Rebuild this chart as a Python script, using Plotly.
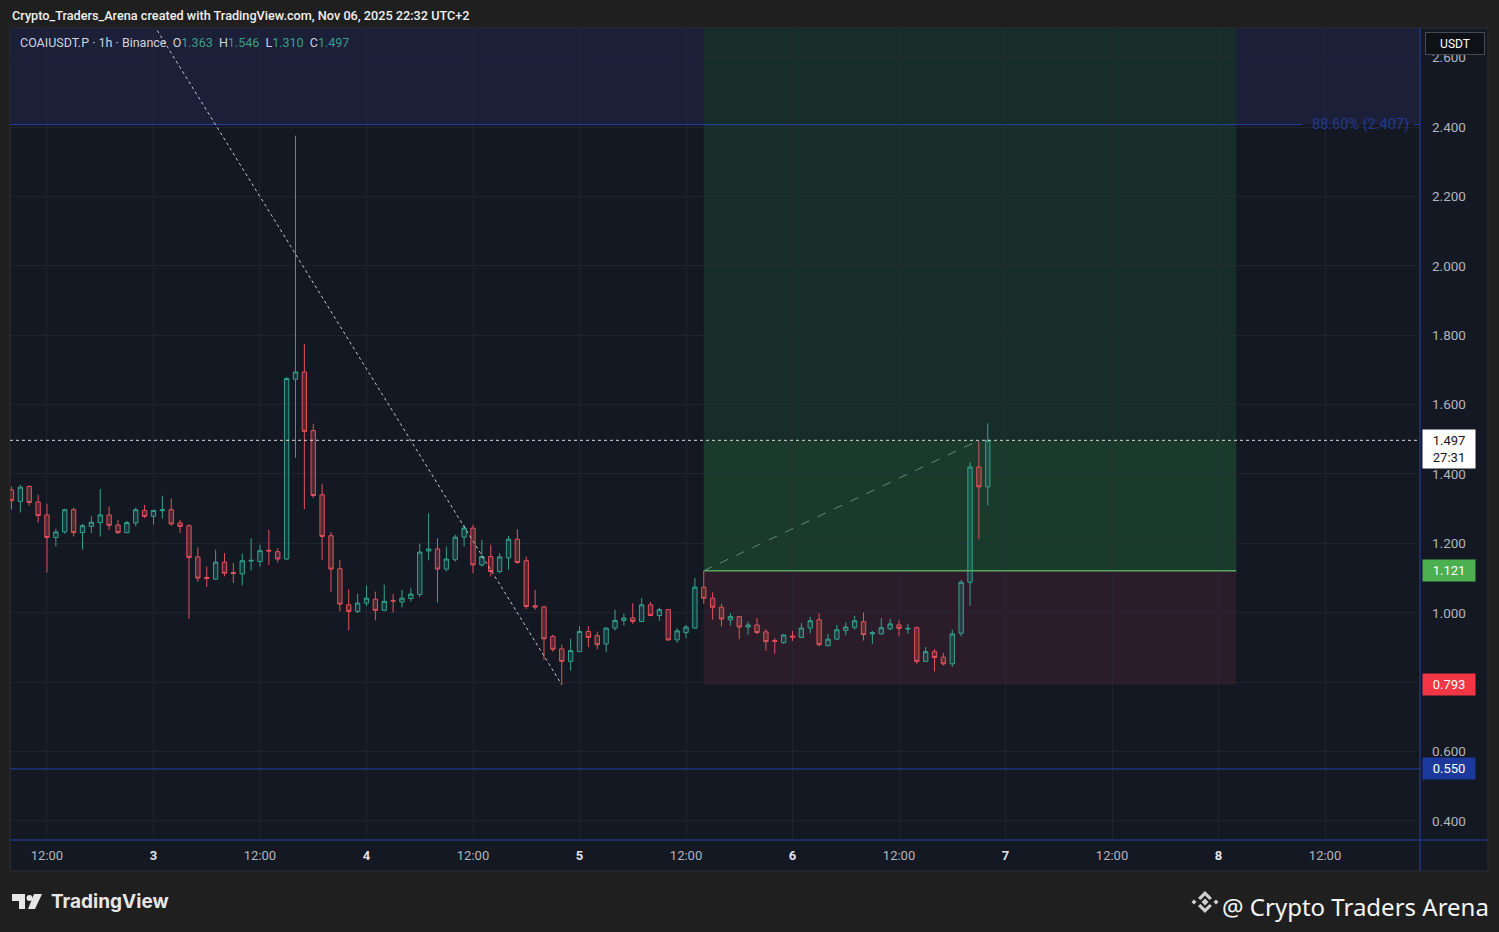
import pandas as pd
import plotly.graph_objects as go

# canvas and plot box in pixels
W, H = 1499, 932
PL, PR, PT, PB = 10, 1420, 28, 840


def px(x):
    return (x - PL) / (PR - PL)


def py(y):
    return (PB - y) / (PB - PT)


def pix_path(points):
    d = "M" + " L".join(f"{px(x):.5f},{py(y):.5f}" for x, y in points)
    return d + " Z"


# hourly candles, Nov 2 08:00 -> Nov 6 22:00 (UTC+2)
times = pd.date_range("2025-11-02 08:00", periods=111, freq="h")

opens = [1.354, 1.321, 1.364, 1.319, 1.282, 1.217, 1.233, 1.297, 1.231, 1.249,
         1.260, 1.282, 1.253, 1.231, 1.259, 1.295, 1.278, 1.294, 1.297, 1.259,
         1.251, 1.161, 1.102, 1.097, 1.146, 1.116, 1.112, 1.149, 1.148, 1.180,
         1.176, 1.155, 1.673, 1.694, 1.525, 1.340, 1.222, 1.127, 1.023, 1.004,
         1.028, 1.039, 1.007, 1.035, 1.031, 1.041, 1.053, 1.178, 1.184, 1.126,
         1.153, 1.218, 1.244, 1.138, 1.162, 1.119, 1.158, 1.212, 1.150, 1.020,
         1.017, 0.932, 0.896, 0.860, 0.888, 0.946, 0.934, 0.910, 0.956, 0.978,
         0.985, 0.975, 1.023, 0.992, 1.009, 0.922, 0.943, 0.956, 1.074, 1.042,
         1.016, 0.980, 0.989, 0.959, 0.965, 0.945, 0.920, 0.914, 0.933, 0.929,
         0.956, 0.980, 0.905, 0.924, 0.949, 0.958, 0.974, 0.939, 0.939, 0.954,
         0.965, 0.953, 0.957, 0.860, 0.888, 0.872, 0.853, 0.941, 1.088, 1.420,
         1.363]
highs = [1.364, 1.369, 1.367, 1.340, 1.314, 1.242, 1.300, 1.303, 1.256, 1.278,
         1.357, 1.306, 1.268, 1.265, 1.303, 1.311, 1.297, 1.337, 1.329, 1.268,
         1.255, 1.189, 1.133, 1.182, 1.172, 1.143, 1.170, 1.215, 1.196, 1.239,
         1.186, 1.679, 2.375, 1.775, 1.545, 1.371, 1.233, 1.153, 1.068, 1.055,
         1.078, 1.061, 1.081, 1.054, 1.066, 1.071, 1.199, 1.287, 1.215, 1.191,
         1.225, 1.254, 1.254, 1.210, 1.196, 1.172, 1.222, 1.241, 1.162, 1.066,
         1.021, 0.937, 0.908, 0.925, 0.961, 0.961, 0.946, 0.956, 1.009, 0.997,
         1.028, 1.042, 1.031, 1.015, 1.010, 0.956, 0.965, 1.100, 1.120, 1.059,
         1.026, 0.999, 0.990, 0.975, 0.985, 0.953, 0.927, 0.938, 0.948, 0.970,
         0.988, 0.999, 0.939, 0.965, 0.972, 0.991, 1.001, 0.948, 0.985, 0.983,
         0.978, 0.968, 0.960, 0.901, 0.895, 0.884, 0.951, 1.095, 1.434, 1.494,
         1.546]
lows = [1.297, 1.289, 1.309, 1.260, 1.116, 1.191, 1.228, 1.220, 1.182, 1.230,
        1.220, 1.239, 1.227, 1.230, 1.249, 1.273, 1.254, 1.271, 1.251, 1.230,
        0.982, 1.090, 1.074, 1.095, 1.105, 1.086, 1.079, 1.122, 1.133, 1.138,
        1.145, 1.153, 1.446, 1.299, 1.331, 1.151, 1.059, 1.004, 0.949, 0.999,
        1.020, 0.978, 1.005, 1.001, 1.016, 1.033, 1.045, 1.151, 1.030, 1.119,
        1.148, 1.191, 1.114, 1.133, 1.105, 1.114, 1.124, 1.141, 1.011, 1.009,
        0.865, 0.888, 0.793, 0.834, 0.887, 0.901, 0.895, 0.886, 0.949, 0.963,
        0.968, 0.974, 0.990, 0.977, 0.919, 0.914, 0.927, 0.955, 1.026, 0.980,
        0.961, 0.963, 0.924, 0.937, 0.939, 0.891, 0.882, 0.911, 0.919, 0.928,
        0.941, 0.903, 0.904, 0.923, 0.935, 0.951, 0.920, 0.911, 0.938, 0.949,
        0.932, 0.939, 0.853, 0.858, 0.831, 0.848, 0.844, 0.932, 1.020, 1.212,
        1.310]
closes = [1.323, 1.362, 1.318, 1.280, 1.217, 1.233, 1.297, 1.231, 1.251, 1.261,
          1.282, 1.252, 1.231, 1.260, 1.297, 1.278, 1.295, 1.297, 1.256, 1.249,
          1.159, 1.100, 1.099, 1.146, 1.114, 1.113, 1.150, 1.151, 1.179, 1.178,
          1.155, 1.675, 1.694, 1.523, 1.338, 1.220, 1.126, 1.025, 1.004, 1.028,
          1.042, 1.007, 1.033, 1.034, 1.042, 1.054, 1.175, 1.184, 1.126, 1.155,
          1.218, 1.244, 1.138, 1.162, 1.119, 1.161, 1.212, 1.145, 1.018, 1.017,
          0.925, 0.895, 0.860, 0.891, 0.946, 0.929, 0.908, 0.956, 0.978, 0.985,
          0.975, 1.023, 0.992, 1.009, 0.922, 0.948, 0.959, 1.074, 1.042, 1.016,
          0.982, 0.989, 0.959, 0.965, 0.943, 0.917, 0.918, 0.936, 0.930, 0.956,
          0.977, 0.908, 0.924, 0.951, 0.959, 0.977, 0.937, 0.943, 0.957, 0.968,
          0.955, 0.955, 0.860, 0.888, 0.871, 0.853, 0.939, 1.088, 1.420, 1.363,
          1.497]

# drawings on the chart
ENTRY = 1.121
STOP = 0.793
TARGET = 2.75
LAST = 1.497
FIB_LEVEL = 2.407
FIB_TEXT = "88.60% (2.407)"
LOW_LEVEL = 0.550
POS_START = "2025-11-05 14:00"
POS_END = "2025-11-08 02:00"
POS_NOW = "2025-11-06 21:00"
TREND_X = ["2025-11-02 23:00", "2025-11-04 22:00"]
TREND_Y = [2.737, 0.793]
COUNTDOWN = "27:31"

x_tickvals = ["2025-11-02 12:00", "2025-11-03 00:00", "2025-11-03 12:00",
              "2025-11-04 00:00", "2025-11-04 12:00", "2025-11-05 00:00",
              "2025-11-05 12:00", "2025-11-06 00:00", "2025-11-06 12:00",
              "2025-11-07 00:00", "2025-11-07 12:00", "2025-11-08 00:00",
              "2025-11-08 12:00"]
x_labels = ["12:00", "3", "12:00", "4", "12:00", "5", "12:00", "6",
            "12:00", "7", "12:00", "8", "12:00"]
y_tickvals = [0.4, 0.6, 0.8, 1.0, 1.2, 1.4, 1.6, 1.8, 2.0, 2.2, 2.4, 2.6]
# 0.800 sits under the stop-loss label on the price scale
y_ticktext = ["0.400", "0.600", "", "1.000", "1.200", "1.400", "1.600",
              "1.800", "2.000", "2.200", "2.400", "2.600"]

OUTER = "#1f1f1f"
PANEL = "#141823"
GREY = "#b2b5be"
TEAL = "#3d9c88"
BLUE = "#2540a8"

x_ticktext = [t if ":" in t else f"<span style='color:#e0e3eb'><b>{t}</b></span>"
              for t in x_labels]

fig = go.Figure()
fig.add_trace(go.Candlestick(
    x=times, open=opens, high=highs, low=lows, close=closes,
    increasing=dict(line=dict(color="#36a18b", width=1),
                    fillcolor="rgba(38,166,154,0.22)"),
    decreasing=dict(line=dict(color="#e0525c", width=1),
                    fillcolor="rgba(239,83,80,0.28)"),
    whiskerwidth=0, hoverinfo="skip", showlegend=False,
))

shapes = [
    # chart panel incl. price and time scales
    dict(type="rect", xref="paper", yref="paper", x0=px(10), x1=px(1488),
         y0=py(871), y1=py(28), fillcolor=PANEL,
         line=dict(color="#2f2f33", width=1), layer="below"),
    # blue band above the fib level
    dict(type="rect", xref="paper", yref="y", x0=0, x1=1, y0=FIB_LEVEL, y1=TARGET,
         fillcolor="#1b1f38", line_width=0, layer="below"),
    # long position tool
    dict(type="rect", xref="x", yref="y", x0=POS_START, x1=POS_END,
         y0=LAST, y1=TARGET, fillcolor="#172d29", line_width=0, layer="below"),
    dict(type="rect", xref="x", yref="y", x0=POS_START, x1=POS_END,
         y0=ENTRY, y1=LAST, fillcolor="#1a3a2b", line_width=0, layer="below"),
    dict(type="rect", xref="x", yref="y", x0=POS_START, x1=POS_END,
         y0=STOP, y1=ENTRY, fillcolor="#2a1d29", line_width=0, layer="below"),
    dict(type="line", xref="x", yref="y", x0=POS_START, x1=POS_END,
         y0=ENTRY, y1=ENTRY, line=dict(color="#5aa860", width=1.5)),
    dict(type="line", xref="x", yref="y", x0=POS_START, x1=POS_NOW,
         y0=ENTRY, y1=LAST, line=dict(color="#5e8a76", width=1, dash="dash")),
    # fib level lines
    dict(type="line", xref="paper", yref="y", x0=0, x1=px(1302),
         y0=FIB_LEVEL, y1=FIB_LEVEL, line=dict(color=BLUE, width=1)),
    dict(type="line", xref="paper", yref="y", x0=px(1414), x1=1,
         y0=FIB_LEVEL, y1=FIB_LEVEL, line=dict(color=BLUE, width=1)),
    dict(type="line", xref="paper", yref="y", x0=0, x1=1,
         y0=LOW_LEVEL, y1=LOW_LEVEL, line=dict(color=BLUE, width=1)),
    # last price line
    dict(type="line", xref="paper", yref="y", x0=0, x1=1,
         y0=LAST, y1=LAST, line=dict(color="#d8d8d8", width=1, dash="dot")),
    # dotted trend line
    dict(type="line", xref="x", yref="y", x0=TREND_X[0], x1=TREND_X[1],
         y0=TREND_Y[0], y1=TREND_Y[1], line=dict(color="#c8c8c8", width=1, dash="dot")),
    # scale borders
    dict(type="line", xref="paper", yref="paper", x0=0, x1=px(1488),
         y0=0, y1=0, line=dict(color=BLUE, width=1)),
    dict(type="line", xref="paper", yref="paper", x0=1, x1=1,
         y0=py(871), y1=1, line=dict(color=BLUE, width=1)),
    # TradingView logo
    dict(type="path", xref="paper", yref="paper", fillcolor="#e6e6e6", line_width=0,
         path=pix_path([(12, 894), (25, 894), (25, 909), (19, 909), (19, 901), (12, 901)])),
    dict(type="circle", xref="paper", yref="paper", fillcolor="#e6e6e6", line_width=0,
         x0=px(26.5), x1=px(32.5), y0=py(901), y1=py(895)),
    dict(type="path", xref="paper", yref="paper", fillcolor="#e6e6e6", line_width=0,
         path=pix_path([(34, 894), (42, 894), (35, 909), (28, 909)])),
]

# exchange icon next to the watermark
for cx, cy, r in [(1205, 902, 3.5), (1194, 902, 2.5), (1216, 902, 2.5)]:
    shapes.append(dict(type="path", xref="paper", yref="paper", fillcolor="#d0d0d0",
                       line_width=0,
                       path=pix_path([(cx, cy - r), (cx + r, cy), (cx, cy + r), (cx - r, cy)])))
for pts in [[(1198, 898), (1205, 891), (1212, 898), (1209.5, 900), (1205, 895.5), (1200.5, 900)],
            [(1198, 906), (1205, 913), (1212, 906), (1209.5, 904), (1205, 908.5), (1200.5, 904)]]:
    shapes.append(dict(type="path", xref="paper", yref="paper", fillcolor="#d0d0d0",
                       line_width=0, path=pix_path(pts)))

sp = "\u00a0"
legend_text = (
    f"COAIUSDT.P · 1h · Binance{sp}{sp}"
    f"O<span style='color:{TEAL}'>{opens[-1]:.3f}</span>{sp}{sp}"
    f"H<span style='color:{TEAL}'>{highs[-1]:.3f}</span>{sp}{sp}"
    f"L<span style='color:{TEAL}'>{lows[-1]:.3f}</span>{sp}{sp}"
    f"C<span style='color:{TEAL}'>{closes[-1]:.3f}</span>"
)

price_box = dict(xref="paper", yref="y", x=1, xanchor="left", xshift=2,
                 showarrow=False, width=46, borderpad=3, align="center",
                 font=dict(family="Roboto", size=13, color="#ffffff"))

annotations = [
    dict(xref="paper", yref="paper", x=px(10), y=py(15), xanchor="left",
         yanchor="middle", showarrow=False,
         text="Crypto_Traders_Arena created with TradingView.com, Nov 06, 2025 22:32 UTC+2",
         font=dict(family="Roboto", size=12.7, color="#f0f0f0", weight=500)),
    dict(xref="paper", yref="paper", x=px(18), y=py(42), xanchor="left",
         yanchor="middle", showarrow=False, text=legend_text,
         font=dict(family="Roboto", size=12.5, color="#d1d4dc")),
    dict(xref="paper", yref="y", x=px(1411), y=FIB_LEVEL, xanchor="right",
         yanchor="middle", showarrow=False, text=FIB_TEXT,
         font=dict(family="Roboto", size=14.5, color="#223a8c")),
    dict(xref="paper", yref="paper", x=px(1455), y=py(43.5), xanchor="center",
         yanchor="middle", showarrow=False,
         text="USDT", width=56, height=19, bgcolor="#0e1115",
         bordercolor="#454a55", borderwidth=1, borderpad=1,
         font=dict(family="Roboto", size=12, color="#ffffff")),
    dict(price_box, y=LAST, yanchor="top", yshift=11, bgcolor="#ffffff",
         text=f"{LAST:.3f}<br>{COUNTDOWN}",
         font=dict(family="Roboto", size=13, color="#131722")),
    dict(price_box, y=ENTRY, yanchor="middle", bgcolor="#4caf50", text=f"{ENTRY:.3f}"),
    dict(price_box, y=STOP, yanchor="middle", bgcolor="#f23645", text=f"{STOP:.3f}"),
    dict(price_box, y=LOW_LEVEL, yanchor="middle", bgcolor="#1c3a9e",
         text=f"{LOW_LEVEL:.3f}"),
    dict(xref="paper", yref="paper", x=px(49), y=py(901.5), xanchor="left",
         yanchor="middle", showarrow=False, text="<b>TradingView</b>",
         font=dict(family="Inter", size=19, color="#e6e6e6")),
    dict(xref="paper", yref="paper", x=px(1491), y=py(906), xanchor="right",
         yanchor="middle", showarrow=False, text="@ Crypto Traders Arena",
         font=dict(family="Noto Sans", size=24, color="#f5f5f5")),
]

fig.update_layout(
    width=W, height=H, autosize=False,
    margin=dict(l=PL, r=W - PR, t=PT, b=H - PB),
    paper_bgcolor=OUTER, plot_bgcolor=PANEL,
    showlegend=False, hovermode=False,
    shapes=shapes, annotations=annotations,
    xaxis=dict(type="date", range=["2025-11-02 07:50", "2025-11-08 22:42"],
               rangeslider=dict(visible=False), tickvals=x_tickvals,
               ticktext=x_ticktext, showgrid=True, gridcolor="rgba(42,46,57,0.5)",
               zeroline=False, showline=False, ticks="", ticklabelstandoff=6,
               tickfont=dict(family="Roboto", size=13, color=GREY), fixedrange=True),
    yaxis=dict(side="right", range=[0.3452, 2.6853], tickvals=y_tickvals,
               ticktext=y_ticktext, showgrid=True, gridcolor="rgba(42,46,57,0.5)",
               zeroline=False, showline=False, ticks="", ticklabelstandoff=11,
               tickfont=dict(family="Roboto", size=13.5, color=GREY), fixedrange=True),
)

# drop the browser's default page margin so the chart sits at (0, 0)
fig.write_html("out.html", config={"displayModeBar": False},
               post_script="document.body.style.margin='0';")
